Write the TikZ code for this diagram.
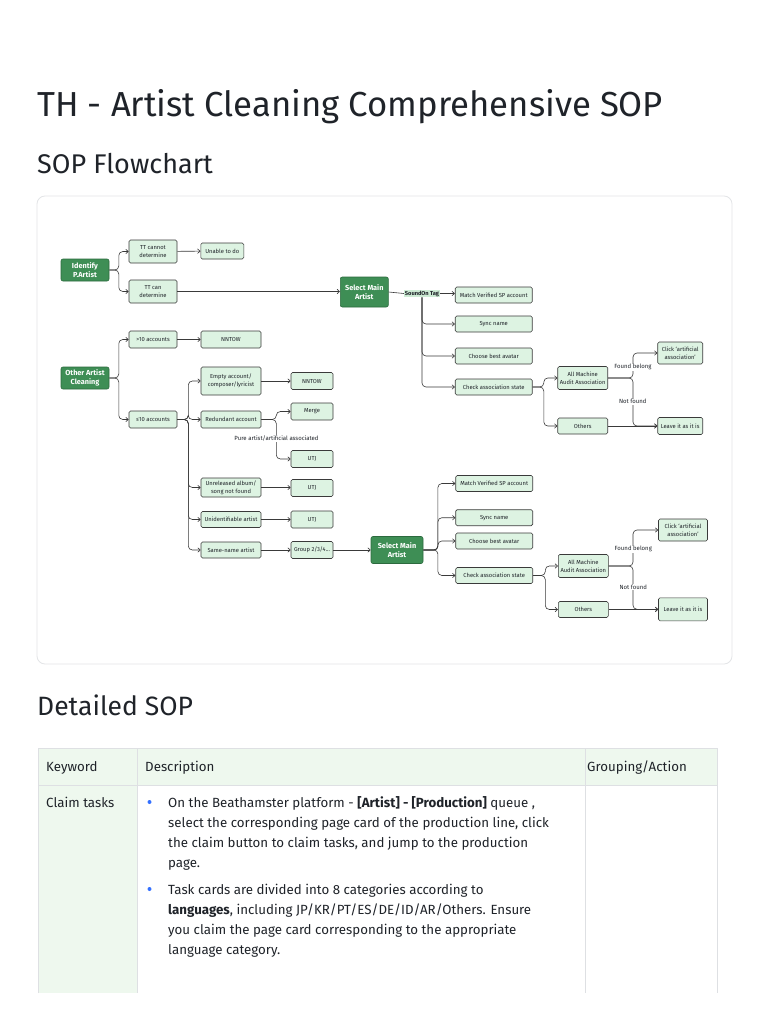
\documentclass[tikz,border=0pt]{standalone}
\usepackage{fontspec}
\setmainfont{Fira Sans}
\usetikzlibrary{arrows.meta}
\definecolor{dkgreen}{HTML}{3E8E55}
\definecolor{dkgreenb}{HTML}{2C6A3E}
\definecolor{ltgreen}{HTML}{DDF3E2}
\definecolor{tagbg}{HTML}{CDEBD4}
\definecolor{edgeclr}{HTML}{3A3A3A}
\definecolor{tblline}{HTML}{DEE0E3}
\definecolor{tblhead}{HTML}{EEF8EE}
\definecolor{frameclr}{HTML}{E3E5E7}
\definecolor{bulletblue}{HTML}{3370FF}
\definecolor{ink}{HTML}{1F2329}
\begin{document}
\begin{tikzpicture}[x=1pt,y=-1pt,
  mainbox/.style={draw=dkgreenb, fill=dkgreen, rounded corners=2pt, line width=0.6pt, text=white,
    font=\fontsize{7.3}{8.8}\selectfont\bfseries, align=center, inner sep=0pt},
  gbox/.style={draw=edgeclr, fill=ltgreen, rounded corners=1.5pt, line width=0.6pt, text=ink,
    font=\fontsize{5.8}{7.6}\selectfont, align=center, inner sep=0pt},
  arr/.style={draw=edgeclr, line width=0.6pt, -{Straight Barb[length=2.5pt,width=4.5pt]}},
  br/.style={arr, rounded corners=4pt},
  plain/.style={draw=edgeclr, line width=0.6pt},
  lbl/.style={fill=white, font=\fontsize{6}{7}\selectfont, text=ink, inner sep=0.6pt},
  wh/.style={minimum width=#1pt},
  ht/.style={minimum height=#1pt},
]
\useasboundingbox[fill=white] (0,0) rectangle (768,1024);

% headings
\node[anchor=base west, inner sep=0pt, text=ink, font=\fontsize{34.7}{38}\selectfont] (title) at (37,117) {TH - Artist Cleaning Comprehensive SOP};
\node[anchor=base west, inner sep=0pt, text=ink, font=\fontsize{27}{30}\selectfont] (sub1) at (37,174) {SOP Flowchart};
\node[anchor=base west, inner sep=0pt, text=ink, font=\fontsize{26.5}{30}\selectfont] (sub2) at (37,715) {Detailed SOP};

% frame
\draw[draw=frameclr, fill=white, line width=0.8pt, rounded corners=8pt] (37,196) rectangle (732,664);

% ---------- top flow
\node[mainbox, wh=48, ht=22] (ident) at (85,270) {Identify\\P.Artist};
\node[gbox, wh=48, ht=23] (ttc) at (153,251.5) {TT cannot\\determine};
\node[gbox, wh=43, ht=16] (unable) at (222.3,251) {Unable to do};
\node[gbox, wh=48, ht=23] (ttcan) at (153,291.5) {TT can\\determine};
\node[mainbox, wh=48, ht=30] (sma) at (364.3,292) {Select Main\\Artist};
\node[fill=tagbg, inner sep=0.8pt, text=ink, font=\fontsize{5.7}{6.5}\selectfont\bfseries] (sot) at (422,293.5) {SoundOn Tag};
\node[gbox, wh=77, ht=16] (m1) at (493.7,295) {Match Verified SP account};
\node[gbox, wh=77, ht=16] (s1) at (493.7,324) {Sync name};
\node[gbox, wh=77, ht=16] (c1) at (493.7,356) {Choose best avatar};
\node[gbox, wh=77, ht=16] (k1) at (493.7,387) {Check association state};
\node[gbox, wh=50, ht=23] (am1) at (582.7,378) {All Machine\\Audit Association};
\node[gbox, wh=50, ht=16] (o1) at (582.7,426) {Others};
\node[gbox, wh=45, ht=22] (cl1) at (680.2,353) {Click `artificial\\association'};
\node[gbox, wh=45, ht=17] (lv1) at (680.2,426) {Leave it as it is};

% ---------- other artist cleaning
\node[mainbox, wh=48, ht=22] (oac) at (85,378) {Other Artist\\Cleaning};
\node[gbox, wh=48, ht=17] (gt) at (153,339.5) {>10 accounts};
\node[gbox, wh=60, ht=17] (nn1) at (231,339.5) {NNTOW};
\node[gbox, wh=48, ht=17] (le) at (153,419.5) {≤10 accounts};
\node[gbox, wh=60, ht=28] (emp) at (231,381) {Empty account/\\composer/lyricist};
\node[gbox, wh=42, ht=17] (nn2) at (312,381) {NNTOW};
\node[gbox, wh=60, ht=17] (red) at (231,419.5) {Redundant account};
\node[gbox, wh=42, ht=17] (mer) at (312,411.5) {Merge};
\node[gbox, wh=42, ht=17] (utj1) at (312,459) {UTJ};
\node[gbox, wh=60, ht=19] (unr) at (231,487.5) {Unreleased album/\\song not found};
\node[gbox, wh=42, ht=17] (utj2) at (312,488) {UTJ};
\node[gbox, wh=60, ht=16] (uni) at (231,519.5) {Unidentifiable artist};
\node[gbox, wh=42, ht=17] (utj3) at (312,519.5) {UTJ};
\node[gbox, wh=60, ht=16] (same) at (231,550) {Same-name artist};
\node[gbox, wh=42, ht=17] (grp) at (312,550) {Group 2/3/4...};
\node[mainbox, wh=52, ht=27] (sma2) at (397,550) {Select Main\\Artist};
\node[gbox, wh=77, ht=16] (m2) at (494.2,483.5) {Match Verified SP account};
\node[gbox, wh=77, ht=16] (s2) at (494.2,517.7) {Sync name};
\node[gbox, wh=77, ht=16] (c2) at (494.2,541) {Choose best avatar};
\node[gbox, wh=77, ht=16] (k2) at (494.2,575.5) {Check association state};
\node[gbox, wh=50, ht=23] (am2) at (583.3,566) {All Machine\\Audit Association};
\node[gbox, wh=50, ht=16] (o2) at (583.3,609.5) {Others};
\node[gbox, wh=49, ht=22] (cl2) at (683,530) {Click `artificial\\association'};
\node[gbox, wh=49, ht=23] (lv2) at (683,609.3) {Leave it as it is};

% ---------- connectors (top)
\draw[br] (ident.east) -- ++(9.5,0) |- (ttc.west);
\draw[br] (ident.east) -- ++(9.5,0) |- (ttcan.west);
\draw[arr] (ttc) -- (unable);
\draw[arr] (ttcan.east) -- (sma.west |- ttcan.east);
\draw[plain] (sma.east) -- (sot.west);
\draw[arr] (sot.east) -- (m1.west |- sot.east);
\draw[br] (sot.south) |- (s1.west);
\draw[br] (sot.south) |- (c1.west);
\draw[br] (sot.south) |- (k1.west);
\draw[br] (k1.east) -- ++(11.3,0) |- (am1.west);
\draw[br] (k1.east) -- ++(11.3,0) |- (o1.west);
\draw[br] (am1.east) -- ++(25,0) |- (cl1.west);
\draw[br] (am1.east) -- ++(25,0) |- (lv1.west);
\draw[arr] (o1) -- (lv1);

% ---------- connectors (other)
\draw[br] (oac.east) -- ++(9.5,0) |- (gt.west);
\draw[br] (oac.east) -- ++(9.5,0) |- (le.west);
\draw[arr] (gt) -- (nn1);
\draw[br] (le.east) -- ++(11,0) |- (emp.west);
\draw[br] (le.east) -- ++(11,0) |- (red.west);
\draw[br] (le.east) -- ++(11,0) |- (unr.west);
\draw[br] (le.east) -- ++(11,0) |- (uni.west);
\draw[br] (le.east) -- ++(11,0) |- (same.west);
\draw[arr] (emp) -- (nn2);
\draw[br] (red.east) -- ++(15,0) |- (mer.west);
\draw[br] (red.east) -- ++(15,0) |- (utj1.west);
\draw[arr] (unr.east) -- (utj2.west |- unr.east);
\draw[arr] (uni) -- (utj3);
\draw[arr] (same) -- (grp);
\draw[arr] (grp) -- (sma2);
\draw[br] (sma2.east) -- ++(14.6,0) |- (m2.west);
\draw[br] (sma2.east) -- ++(14.6,0) |- (s2.west);
\draw[br] (sma2.east) -- ++(14.6,0) |- (c2.west);
\draw[br] (sma2.east) -- ++(14.6,0) |- (k2.west);
\draw[br] (k2.east) -- ++(12.3,0) |- (am2.west);
\draw[br] (k2.east) -- ++(12.3,0) |- (o2.west);
\draw[br] (am2.east) -- ++(24.4,0) |- (cl2.west);
\draw[br] (am2.east) -- ++(24.4,0) |- (lv2.west);
\draw[arr] (o2.east) -- (lv2.west |- o2.east);

% labels
\node[lbl] (fb1) at (633,367.3) {Found belong};
\node[lbl] (nf1) at (632.7,401.7) {Not found};
\node[lbl] (fb2) at (633.3,549.3) {Found belong};
\node[lbl] (nf2) at (633.3,587) {Not found};
\node[lbl] (pure) at (276.5,438.5) {Pure artist/artificial associated};

% ---------- table
\fill[tblhead] (38,748) rectangle (717,785);
\fill[tblhead] (38,785) rectangle (137,993);
\draw[tblline, line width=0.8pt] (38,993) -- (38,748) -- (717,748) -- (717,993);
\draw[tblline, line width=0.8pt] (38,785) -- (717,785);
\draw[tblline, line width=0.8pt] (137,748) -- (137,993);
\draw[tblline, line width=0.8pt] (585,748) -- (585,993);

\begin{scope}[every node/.style={anchor=base west, inner sep=0pt, text=ink, font=\fontsize{13.3}{20}\selectfont}]
\node (hk) at (46,771) {Keyword};
\node (hd) at (145,771) {Description};
\node (hg) at (587,771) {Grouping/Action};
\node (ct) at (46,807) {Claim tasks};
\node (l1) at (168,807) {On the Beathamster platform - \textbf{[Artist] - [Production]} queue ,};
\node (l2) at (168,827) {select the corresponding page card of the production line, click};
\node (l3) at (168,847) {the claim button to claim tasks, and jump to the production};
\node (l4) at (168,867) {page.};
\node (l5) at (168,894) {Task cards are divided into 8 categories according to};
\node (l6) at (168,914) {\textbf{languages}, including JP/KR/PT/ES/DE/ID/AR/Others. Ensure};
\node (l7) at (168,934) {you claim the page card corresponding to the appropriate};
\node (l8) at (168,954) {language category.};
\end{scope}
\fill[bulletblue] (149.5,802) circle (2pt);
\fill[bulletblue] (149.5,889) circle (2pt);
\end{tikzpicture}
\end{document}
